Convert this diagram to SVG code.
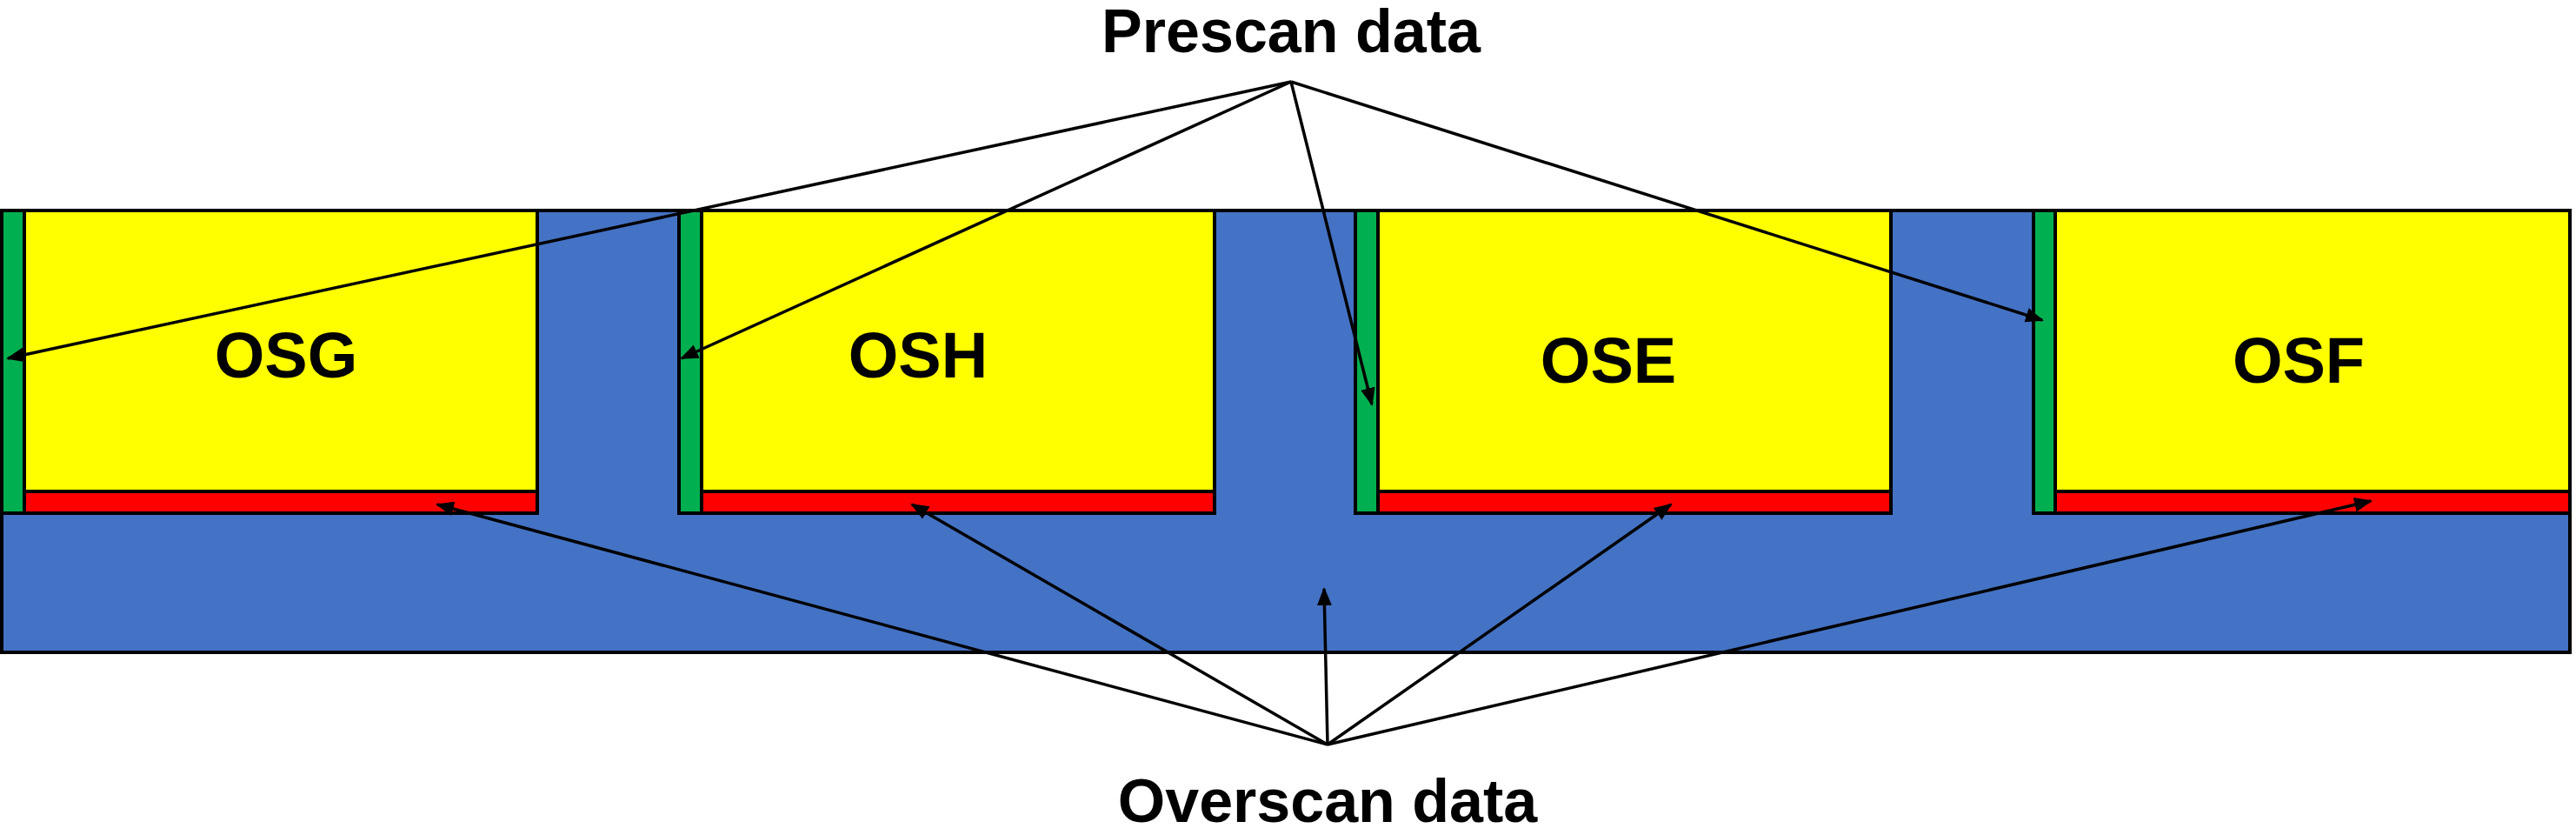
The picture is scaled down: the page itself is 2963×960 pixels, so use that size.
<svg xmlns="http://www.w3.org/2000/svg" width="2963" height="960" viewBox="0 0 2963 960">
<style>
.bd{stroke:#000;stroke-width:4}
.y{fill:#ffff00}.g{fill:#00b050}.r{fill:#ff0000}
.lbl{font-family:"Liberation Sans",Arial,sans-serif;font-weight:bold;font-size:74px;text-anchor:middle;fill:#000}
.big{font-family:"Liberation Sans",Arial,sans-serif;font-weight:bold;font-size:70px;text-anchor:middle;fill:#000}
.c{stroke:#000;stroke-width:3.5;fill:none;marker-end:url(#a)}
</style>
<defs><marker id="a" viewBox="0 0 10 10" refX="9" refY="5" markerWidth="6" markerHeight="6" orient="auto" markerUnits="strokeWidth"><path d="M0,1L10,5L0,9z" fill="#000"/></marker></defs>
<rect id="bg" x="2" y="242" width="2954" height="508" fill="#4472c4" class="bd"/>
<g id="OSG"><rect class="y bd" x="28" y="242" width="590" height="323"/><rect class="r bd" x="28" y="565" width="590" height="25"/><rect class="g bd" x="2" y="242" width="26" height="348"/><text class="lbl" x="329" y="434">OSG</text></g>
<g id="OSH"><rect class="y bd" x="807" y="242" width="590" height="323"/><rect class="r bd" x="807" y="565" width="590" height="25"/><rect class="g bd" x="781" y="242" width="26" height="348"/><text class="lbl" x="1056" y="434">OSH</text></g>
<g id="OSE"><rect class="y bd" x="1585" y="242" width="590" height="323"/><rect class="r bd" x="1585" y="565" width="590" height="25"/><rect class="g bd" x="1559" y="242" width="26" height="348"/><text class="lbl" x="1850" y="440">OSE</text></g>
<g id="OSF"><rect class="y bd" x="2364" y="242" width="592" height="323"/><rect class="r bd" x="2364" y="565" width="592" height="25"/><rect class="g bd" x="2339" y="242" width="25" height="348"/><text class="lbl" x="2644" y="440">OSF</text></g>
<text id="prescan" class="big" x="1485" y="60">Prescan data</text>
<text id="overscan" class="big" x="1527" y="945">Overscan data</text>
<g id="connectors">
<path class="c" d="M1485,94L9,412"/>
<path class="c" d="M1485,94L784,412"/>
<path class="c" d="M1485,94L1578,465"/>
<path class="c" d="M1485,94L2349,368"/>
<path class="c" d="M1527,856L503,580"/>
<path class="c" d="M1527,856L1049,580"/>
<path class="c" d="M1527,856L1523,677"/>
<path class="c" d="M1527,856L1922,580"/>
<path class="c" d="M1527,856L2727,576"/>
</g>
</svg>
